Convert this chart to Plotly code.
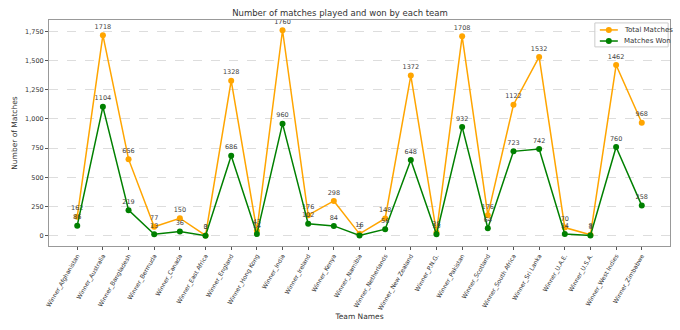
import plotly.graph_objects as go

teams = [
    "Winner_Afghanistan", "Winner_Australia", "Winner_Bangladesh", "Winner_Bermuda",
    "Winner_Canada", "Winner_East Africa", "Winner_England", "Winner_Hong Kong",
    "Winner_India", "Winner_Ireland", "Winner_Kenya", "Winner_Namibia",
    "Winner_Netherlands", "Winner_New Zealand", "Winner_P.N.G.", "Winner_Pakistan",
    "Winner_Scotland", "Winner_South Africa", "Winner_Sri Lanka", "Winner_U.A.E.",
    "Winner_U.S.A.", "Winner_West Indies", "Winner_Zimbabwe",
]
total_matches = [162, 1718, 656, 77, 150, 3, 1328, 43, 1760, 176, 298, 16,
                 148, 1372, 28, 1708, 176, 1122, 1532, 70, 8, 1462, 968]
matches_won = [86, 1104, 219, 13, 36, 0, 686, 14, 960, 102, 84, 3,
               56, 648, 13, 932, 64, 723, 742, 14, 3, 760, 258]

series = [
    ("Total Matches", total_matches, "#FFA500"),
    ("Matches Won", matches_won, "#008000"),
]

font_family = "DejaVu Sans"
idx = list(range(len(teams)))

fig = go.Figure()
for name, values, color in series:
    fig.add_trace(go.Scatter(
        x=idx, y=values, mode="lines+markers+text", name=name,
        line=dict(color=color, width=1.5), marker=dict(color=color, size=6),
        text=[str(v) for v in values], textposition="top center",
        textfont=dict(size=6.5, color="#444444", family=font_family),
        showlegend=False,
    ))

# compact legend box in the upper-right corner of the plot area
shapes = [dict(type="rect", xref="paper", yref="paper",
               x0=0.879, x1=0.997, y0=0.881, y1=0.987,
               line=dict(color="#cccccc", width=1),
               fillcolor="rgba(255,255,255,0.85)", layer="above")]
annotations = []
row_y = [0.956, 0.907]
for (name, _, color), ry in zip(series, row_y):
    shapes.append(dict(type="line", xref="paper", yref="paper",
                       x0=0.887, x1=0.916, y0=ry, y1=ry,
                       line=dict(color=color, width=1.5), layer="above"))
    shapes.append(dict(type="circle", xref="paper", yref="paper",
                       xsizemode="pixel", ysizemode="pixel",
                       xanchor=0.9015, yanchor=ry,
                       x0=-3, x1=3, y0=-3, y1=3,
                       line=dict(color=color, width=0), fillcolor=color,
                       layer="above"))
    annotations.append(dict(text=name, xref="paper", yref="paper",
                            x=0.922, y=ry, xanchor="left", yanchor="middle",
                            showarrow=False,
                            font=dict(size=7, color="#333333")))

n = len(teams)
fig.update_layout(
    width=680, height=330,
    margin=dict(l=49, r=10, t=20, b=84),
    paper_bgcolor="white", plot_bgcolor="white",
    font=dict(family=font_family, size=7, color="#333333"),
    title=dict(text="Number of matches played and won by each team",
               x=0.5, xanchor="center", y=0.97, yanchor="top",
               font=dict(size=8.5, color="#333333")),
    shapes=shapes,
    annotations=annotations,
    xaxis=dict(
        range=[-0.05 * (n - 1), (n - 1) * 1.05],
        tickmode="array", tickvals=idx, ticktext=teams, tickangle=-60,
        tickfont=dict(size=6), ticks="outside", ticklen=3, tickcolor="#555555",
        showgrid=False, zeroline=False,
        showline=True, linecolor="#999999", mirror=True,
        title=dict(text="Team Names", font=dict(size=7.5), standoff=0),
    ),
    yaxis=dict(
        range=[-88, 1848], tickvals=[0, 250, 500, 750, 1000, 1250, 1500, 1750],
        tickformat=",", tickfont=dict(size=6.5),
        ticks="outside", ticklen=3, tickcolor="#555555",
        showgrid=True, gridcolor="#dddddd", griddash="dash", gridwidth=0.8,
        zeroline=False, showline=True, linecolor="#999999", mirror=True,
        title=dict(text="Number of Matches", font=dict(size=7.5), standoff=6),
    ),
)

fig.write_html("out.html")
